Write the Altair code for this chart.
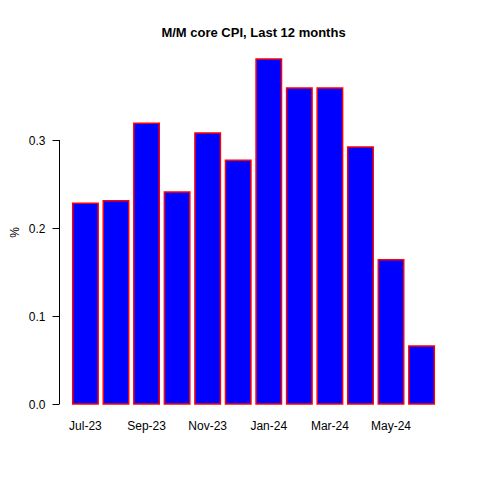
import altair as alt
import pandas as pd

months = ["Jul-23", "Aug-23", "Sep-23", "Oct-23", "Nov-23", "Dec-23",
          "Jan-24", "Feb-24", "Mar-24", "Apr-24", "May-24", "Jun-24"]
values = [0.228, 0.231, 0.319, 0.241, 0.308, 0.277,
          0.392, 0.359, 0.359, 0.292, 0.164, 0.066]
shown_labels = ["Jul-23", "Sep-23", "Nov-23", "Jan-24", "Mar-24", "May-24"]
y_ticks = [0.0, 0.1, 0.2, 0.3]

df = pd.DataFrame({"month": months, "value": values})
FONT = "Liberation Sans"

bars = alt.Chart(df).mark_bar(
    fill="#0000FF", stroke="#FF0000", strokeWidth=1.5
).encode(
    x=alt.X("month:N", sort=months,
            scale=alt.Scale(paddingInner=0.1667, paddingOuter=0.448),
            axis=alt.Axis(title=None, values=shown_labels, domain=False, ticks=False,
                          labelAngle=0, labelFontSize=12, labelFont=FONT,
                          labelColor="black", labelPadding=16, grid=False)),
    y=alt.Y("value:Q", scale=alt.Scale(domain=[0, 0.4], nice=False, zero=True),
            axis=alt.Axis(title="%", values=y_ticks, format=".1f", domain=False,
                          tickColor="black", tickSize=7, tickWidth=1,
                          labelFontSize=12, labelFont=FONT, labelColor="black",
                          labelPadding=7, grid=False,
                          titleFont=FONT, titleFontSize=12, titleFontWeight="normal",
                          titleColor="black", titleAngle=-90, titleX=-45, titleY=180,
                          titleAlign="center", titleBaseline="middle")),
)

axis_line = alt.Chart(pd.DataFrame({"a": [0.0], "b": [0.3]})).mark_rule(
    color="black", strokeWidth=1
).encode(
    x=alt.value(0.5),
    y=alt.Y("a:Q"),
    y2="b:Q",
)

chart = alt.layer(bars, axis_line).properties(
    width=389, height=352,
    background="white",
    autosize=alt.AutoSizeParams(type="none"),
    padding={"left": 51, "top": 44, "right": 24, "bottom": 60},
    title=alt.Title("M/M core CPI, Last 12 months", fontSize=13, font=FONT,
                    fontWeight="bold", color="black", anchor="middle", offset=12),
).configure_view(strokeWidth=0, stroke=None)

chart.save("out.html", embed_options={"renderer": "svg", "actions": False})
